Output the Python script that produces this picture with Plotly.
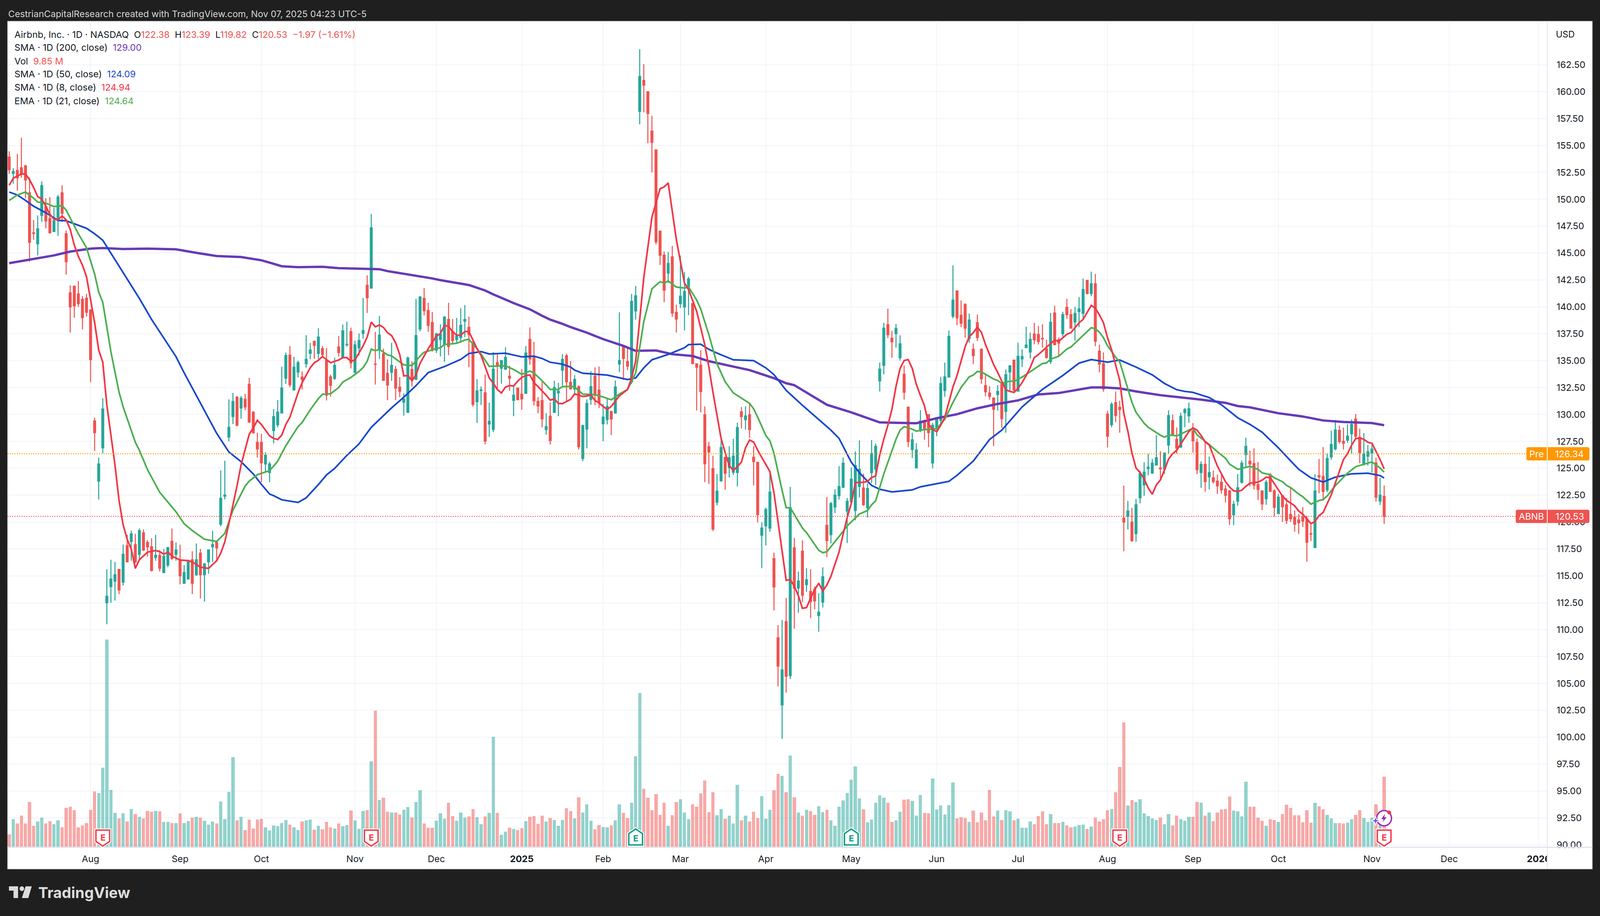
import plotly.graph_objects as go

# ABNB daily bars (prices in USD, volume in millions)
opens = [153.92,152.41,152.68,152.92,153.1,150.6,146.88,145.86,148.5,149.3,
148.2,147.0,148.1,150.6,146.8,141.3,141.9,141.2,140.7,140.8,
139.7,129.4,123.8,126.9,112.5,114.0,114.5,115.6,114.4,117.8,
118.2,117.9,117.0,119.0,118.1,117.7,116.7,116.9,115.3,116.0,
118.2,117.0,116.5,114.3,114.7,116.5,115.1,117.1,115.1,116.3,
117.7,118.1,119.8,122.4,127.9,129.8,131.6,130.6,131.4,132.8,
130.2,127.4,127.4,125.4,124.6,128.5,129.04,130.14,133.37,135.51,
132.28,133.94,133.47,134.72,135.68,136.8,135.66,136.11,135.0,133.5,
133.35,136.27,135.3,136.49,137.7,133.93,136.2,137.53,142.0,141.74,
134.68,136.0,135.64,133.82,133.93,134.18,132.54,131.13,130.19,134.18,
133.26,137.95,140.78,139.66,138.54,135.98,136.96,136.5,138.83,137.73,
136.96,137.15,138.67,138.09,136.69,131.18,132.23,132.01,129.11,128.6,
134.81,134.3,134.2,133.55,131.31,132.45,131.87,131.96,136.97,135.39,
131.2,131.29,128.59,129.83,130.19,132.0,134.12,135.46,132.99,132.37,
132.57,125.91,128.63,131.4,133.56,132.26,129.14,129.53,130.26,130.13,
134.7,136.33,134.91,133.03,139.62,158.17,161.04,160.0,156.33,154.58,
147.03,144.8,143.15,144.65,139.49,140.3,139.99,141.86,140.32,134.7,
134.58,129.97,127.0,124.96,121.84,123.84,125.99,125.07,124.63,124.61,
130.24,129.51,129.97,126.02,125.55,118.78,119.64,119.44,116.6,109.24,
103.0,110.74,105.72,117.6,113.86,117.29,114.19,113.55,113.75,111.31,
112.56,119.7,118.83,121.4,122.45,123.23,121.03,121.88,121.07,123.31,
123.16,121.33,124.59,124.93,133.12,134.56,138.34,137.08,137.5,135.27,
133.73,130.66,126.74,125.04,128.63,129.42,129.98,125.49,128.81,129.46,
132.22,133.47,139.13,141.48,139.21,140.22,137.06,136.06,138.52,136.06,
132.68,131.99,131.53,131.85,132.79,130.29,133.95,135.05,132.18,135.16,
136.21,135.8,137.47,137.43,137.06,136.1,134.92,139.43,136.93,137.5,
139.96,139.28,138.59,139.57,139.39,142.46,141.24,142.14,135.88,134.71,
130.03,129.05,131.09,130.66,120.36,120.55,119.99,118.92,122.25,123.45,
124.97,124.56,125.3,125.02,124.93,127.15,129.42,127.7,126.96,130.17,
129.87,128.45,127.4,124.6,125.36,124.2,124.12,123.8,123.69,123.07,
122.89,120.67,121.94,123.69,126.27,125.65,125.43,123.47,122.89,122.16,
124.4,122.89,120.78,122.45,121.6,120.71,120.45,120.2,120.45,120.27,
118.91,117.62,124.31,124.23,123.0,126.05,126.81,128.52,127.5,127.61,
128.2,129.58,127.87,125.43,126.12,126.41,125.5,121.94,122.38]

highs = [154.46,152.89,154.22,155.72,153.2,152.0,148.06,148.5,151.66,150.1,
150.2,149.2,150.4,151.3,147.1,142.0,142.0,142.4,141.0,141.2,
139.8,129.7,126.0,131.5,115.6,116.5,116.3,115.6,117.9,118.8,
119.2,118.9,119.4,119.3,118.3,118.5,118.8,117.4,117.5,117.7,
119.4,118.1,117.9,116.0,116.5,117.3,118.0,117.5,116.2,117.4,
119.2,118.3,124.8,125.7,131.4,132.0,131.7,131.7,131.9,133.4,
130.3,128.3,128.2,126.5,125.6,130.5,131.33,134.43,135.75,136.36,
135.35,135.0,134.0,137.37,136.65,136.87,138.0,136.36,136.18,133.7,
135.26,137.3,138.35,138.63,138.06,136.87,137.53,140.83,142.93,148.63,
137.68,139.16,136.11,135.12,136.65,134.52,133.46,131.96,135.39,134.94,
140.74,140.98,141.74,140.37,139.52,137.59,138.36,139.14,140.38,138.87,
138.98,139.88,140.17,139.09,136.92,133.28,132.59,133.71,131.09,135.8,
135.6,135.06,136.25,134.52,132.59,132.45,134.21,136.36,138.09,136.74,
131.6,133.04,130.12,131.11,133.13,132.95,135.6,135.64,134.95,133.66,
132.7,129.05,131.4,134.03,134.37,134.45,130.96,131.45,130.35,133.16,
139.49,136.37,136.2,141.2,141.95,163.95,162.56,160.0,157.75,154.58,
147.09,145.15,145.11,145.67,140.2,144.76,143.24,142.78,140.36,134.7,
135.95,130.74,127.45,126.17,124.46,127.88,126.08,127.05,127.73,129.23,
130.7,130.74,131.01,127.05,125.55,119.97,121.33,124.59,117.16,110.41,
110.89,112.94,123.27,118.52,115.4,118.3,115.71,115.62,114.0,113.38,
115.79,122.32,121.88,123.05,125.2,126.0,122.23,125.07,126.57,127.58,
124.5,123.6,127.62,127.3,134.82,138.52,139.83,137.76,138.41,137.36,
134.55,130.75,128.3,127.33,130.4,129.52,129.98,129.22,129.74,133.49,
134.82,137.8,143.85,141.5,140.59,140.33,139.39,136.6,139.28,136.14,
133.81,132.62,131.53,132.73,132.79,134.18,134.58,135.05,136.67,136.06,
138.15,137.61,138.52,138.23,138.37,136.95,139.43,140.11,137.15,139.54,
140.74,139.8,140.0,140.91,142.63,142.5,143.27,143.05,136.49,135.77,
130.33,131.12,132.14,131.27,123.38,121.97,121.31,122.16,124.75,125.56,
126.32,125.86,128.07,126.59,126.47,130.39,130.0,128.78,130.15,130.6,
131.1,129.2,127.76,125.65,127.51,126.09,124.78,124.41,124.51,123.43,
122.96,121.98,124.45,125.72,127.83,126.63,126.85,125.58,122.89,123.91,
124.55,123.06,122.6,122.45,122.23,123.14,121.07,120.74,121.4,120.56,
119.76,124.45,125.87,126.96,126.38,128.49,129.5,128.96,128.78,129.07,
129.54,130.05,128.67,128.27,127.14,127.32,125.98,124.09,123.39]

lows = [152.35,151.45,150.79,151.99,150.1,144.2,146.22,144.78,147.9,147.3,
146.8,147.0,146.6,147.9,143.0,137.6,139.0,140.0,137.9,139.1,
133.0,126.6,122.1,126.4,110.5,112.5,112.7,113.3,114.1,116.3,
116.4,116.2,116.5,117.3,116.8,115.4,116.4,115.4,115.3,115.8,
116.5,116.4,114.2,114.3,114.7,113.3,115.0,112.9,112.6,115.2,
116.3,116.3,119.6,122.1,127.5,129.1,128.9,129.6,130.4,129.2,
128.2,126.0,123.7,124.7,123.7,127.3,128.8,130.14,132.84,132.54,
132.28,133.44,132.32,134.34,135.12,135.17,135.17,135.39,131.3,131.67,
133.2,135.39,135.24,136.29,134.27,133.8,135.48,137.05,139.43,141.7,
132.77,135.15,133.13,131.33,133.13,131.33,131.6,129.88,130.19,132.59,
133.26,137.73,139.21,137.68,135.84,135.71,135.39,134.88,135.51,136.56,
136.61,136.65,137.19,134.39,130.73,129.2,130.88,127.23,127.92,128.35,
132.23,132.86,134.2,132.2,129.83,131.31,130.43,131.96,134.61,130.82,
130.12,128.8,128.12,127.2,130.19,129.83,132.68,131.27,132.3,131.84,
126.74,125.64,126.85,130.9,130.85,130.59,127.51,129.07,128.08,130.13,
133.93,133.2,134.12,132.83,138.82,156.96,158.08,155.21,152.5,145.8,
143.9,140.43,142.24,139.07,137.6,139.9,137.82,139.22,134.64,130.37,
130.19,123.71,123.53,119.16,121.55,123.75,123.0,124.15,124.37,123.31,
128.7,128.59,127.84,123.4,119.95,115.71,117.82,119.09,111.79,104.73,
99.85,104.14,105.4,110.08,111.57,112.56,113.5,111.07,111.9,109.8,
112.06,116.74,118.0,120.83,122.1,123.16,118.04,121.88,120.15,122.28,
121.51,120.41,123.64,123.45,132.14,133.73,137.1,135.27,136.21,135.01,
131.38,126.96,125.95,125.02,128.35,127.65,126.96,125.0,127.98,129.0,
131.64,133.47,138.93,138.3,138.11,137.13,136.67,134.68,136.82,132.86,
131.68,131.38,127.06,130.35,128.76,128.3,132.14,131.96,132.1,134.4,
136.21,135.19,136.52,136.49,136.21,135.19,134.68,136.45,135.47,137.23,
138.89,137.97,136.86,138.11,138.8,141.17,140.98,136.34,133.92,132.1,
126.93,128.81,129.28,128.3,117.29,119.31,118.18,118.18,121.73,122.43,
124.34,124.47,125.26,123.91,124.47,126.35,128.04,126.35,126.9,128.81,
129.23,126.45,124.45,123.18,122.81,123.03,123.58,122.6,122.63,121.83,
119.72,119.72,121.51,123.58,125.14,123.32,123.03,122.05,121.11,121.61,
122.81,120.5,120.78,120.0,119.83,120.0,119.11,118.89,119.54,116.31,
118.23,117.62,122.67,122.0,122.78,125.8,126.67,127.29,126.74,127.36,
126.38,127.75,125.47,125.25,125.25,124.6,121.91,121.58,119.82]

closes = [152.74,152.59,151.99,152.35,151.8,146.0,146.82,147.25,151.27,148.0,
146.9,148.0,150.2,148.7,144.2,140.0,140.1,140.3,139.0,139.5,
135.1,128.3,125.4,130.5,113.1,114.7,115.1,113.7,117.0,116.3,
118.9,116.3,119.2,117.4,117.7,115.5,116.9,115.7,116.8,117.6,
116.6,117.4,115.0,115.3,116.3,114.3,116.5,115.1,116.1,117.4,
117.9,117.6,122.2,122.5,128.8,131.2,129.0,131.5,130.7,129.3,
128.3,126.8,125.5,126.2,125.4,129.8,130.21,132.46,135.48,132.77,
134.39,134.81,133.26,135.12,135.98,136.42,137.19,135.57,131.8,132.7,
134.57,135.75,137.77,136.52,134.79,136.47,136.87,137.79,140.85,147.35,
134.65,137.37,133.17,132.73,134.56,132.45,132.16,131.42,135.24,133.22,
137.33,140.92,139.64,138.27,136.0,137.48,137.44,139.05,136.31,136.87,
137.28,138.29,138.83,137.43,130.93,132.19,132.27,127.52,129.36,134.21,
134.49,135.0,135.3,133.37,131.78,131.38,131.45,135.71,135.17,131.27,
130.79,129.58,128.86,127.58,132.5,132.16,135.12,133.04,132.39,133.25,
127.0,128.96,131.03,132.59,131.78,131.12,129.75,130.74,129.58,132.55,
135.0,135.22,134.49,140.51,141.03,161.41,160.6,157.98,155.29,146.05,
144.8,141.55,144.03,139.43,138.86,140.99,141.43,142.59,134.74,134.39,
132.13,125.42,126.5,119.36,122.87,126.92,124.54,125.99,126.13,128.79,
129.8,129.86,128.59,125.62,120.68,119.44,121.16,122.78,113.97,106.62,
106.25,105.68,121.33,113.86,114.52,113.2,114.63,112.6,112.67,111.62,
114.92,118.28,121.71,122.5,123.29,125.47,121.93,123.99,125.25,124.89,
121.62,123.11,126.37,127.04,134.21,138.02,137.41,136.75,137.98,136.56,
132.07,127.48,127.65,126.69,129.39,128.63,128.31,129.0,129.61,132.86,
133.49,137.25,140.63,138.98,138.48,138.02,138.78,135.47,137.15,133.31,
132.1,131.68,130.48,132.14,129.61,133.7,134.51,132.27,135.4,135.38,
136.45,136.97,136.93,136.78,137.02,135.29,138.56,136.49,136.63,139.28,
139.28,138.02,139.39,139.8,141.61,141.24,142.14,136.8,134.68,132.36,
127.98,130.94,129.9,130.46,119.99,121.01,118.26,121.6,124.52,124.63,
125.1,125.47,125.98,124.95,126.41,129.9,128.07,126.87,129.83,130.45,
130.52,127.54,124.86,125.36,123.76,124.6,123.76,123.36,123.0,122.49,
120.31,121.65,123.18,125.47,127.03,125.4,123.43,123.03,121.69,123.69,
122.85,121.36,122.31,121.43,120.16,120.31,119.8,119.94,120.09,118.12,
118.88,122.89,124.2,122.85,125.91,127.21,128.56,127.47,127.32,127.98,
129.07,127.98,126.45,126.34,126.52,126.78,122.31,122.49,120.53]

volumes = [1.75,3.89,3.28,4.38,3.28,6.3,2.96,3.56,4.11,3.28,
3.61,3.18,3.72,2.74,5.47,5.64,5.15,2.74,3.01,3.34,
5.2,7.77,7.55,11.11,29.06,7.99,4.76,4.0,4.71,3.56,
5.31,4.6,4.22,4.0,5.04,4.93,5.04,4.98,3.5,3.5,
3.34,3.34,4.71,3.34,3.61,4.11,4.22,4.11,3.67,3.12,
3.56,3.28,6.35,3.89,7.72,12.6,3.72,4.22,2.35,3.83,
2.57,3.83,3.94,2.74,2.3,3.01,2.9,3.34,3.78,3.12,
2.74,2.35,3.56,3.72,3.83,2.41,2.96,2.46,3.5,2.74,
2.57,3.28,2.9,3.07,5.09,3.72,2.52,5.04,5.15,11.99,
19.11,6.57,6.9,4.93,4.82,4.82,4.54,5.2,5.58,4.11,
6.3,7.94,3.28,2.68,2.68,3.67,4.71,3.94,6.19,4.32,
3.67,4.82,4.11,4.27,5.31,4.16,3.18,4.27,4.76,15.44,
4.76,1.7,2.14,2.68,2.52,2.35,2.63,3.61,4.22,4.32,
3.23,4.38,3.56,4.05,3.78,2.96,3.78,5.42,5.04,4.0,
6.95,4.82,5.97,3.67,2.46,3.07,2.79,2.74,3.01,3.72,
5.97,4.76,4.05,6.19,12.7,21.57,8.16,6.9,5.15,7.39,
4.49,6.19,2.96,4.43,6.3,6.68,4.82,3.89,5.97,5.64,
7.5,9.31,4.87,7.66,4.43,5.31,3.94,4.38,3.28,8.7,
3.72,4.38,3.56,4.93,4.05,7.12,3.94,5.2,7.94,10.24,
9.96,7.66,12.81,6.95,4.82,4.38,5.2,5.04,4.49,5.69,
4.87,5.2,3.72,2.96,5.64,6.51,7.55,9.42,11.28,6.79,
5.26,3.45,3.83,6.19,7.23,6.9,6.19,3.5,3.72,4.93,
6.62,6.68,6.46,4.38,7.28,4.76,4.71,9.58,5.26,5.8,
4.54,5.86,9.03,4.0,4.16,4.05,3.5,5.09,3.45,4.82,
3.72,7.99,4.27,5.09,3.78,5.15,4.98,3.72,3.94,2.68,
2.68,3.56,3.18,4.32,4.98,3.18,4.6,3.34,3.34,3.5,
3.01,2.74,2.85,3.07,3.12,2.52,2.85,4.11,3.56,3.89,
5.15,5.31,7.66,11.22,17.46,5.8,6.57,6.3,6.68,4.71,
4.32,4.0,3.78,4.11,3.18,4.6,3.01,4.38,3.89,3.67,
4.22,4.22,6.3,6.19,4.38,4.82,3.61,4.82,5.26,5.31,
7.06,5.09,4.98,4.27,9.14,5.64,5.64,4.11,3.67,2.96,
3.89,3.78,3.5,4.6,5.91,5.47,4.43,4.43,3.45,5.15,
3.39,6.19,5.69,5.26,4.49,4.0,3.34,3.34,3.28,3.39,
3.89,4.49,5.15,4.05,3.5,4.11,5.97,4.5,9.85]

sma200_idx = [0,5,11,15,20,23,28,34,41,46,51,57,62,65,67,71,77,81,88,91,93,97,101,104,106,110,113,117,119,124,128,131,133,136,138,142,146,151,154,159,163,168,172,178,182,188,191,193,197,201,207,212,214,223,228,233,238,243,248,253,258,266,269,273,277,283,287,289,293,299,302,305,312,318,323,328,335,338]
sma200_val = [144.06,144.39,144.78,145.14,145.41,145.47,145.38,145.41,145.35,145.02,144.72,144.63,144.33,144.0,143.77,143.69,143.72,143.6,143.56,143.5,143.32,143.09,142.84,142.64,142.48,142.2,142.03,141.52,141.16,140.35,139.77,139.17,138.81,138.42,138.12,137.6,137.0,136.37,135.91,135.95,135.6,135.43,134.95,134.45,134.12,133.37,132.9,132.72,131.84,130.9,130.19,129.53,129.26,129.18,129.65,130.02,130.57,130.98,131.31,131.86,131.99,132.51,132.51,132.42,132.14,131.79,131.63,131.5,131.38,131.08,130.78,130.66,130.11,129.81,129.44,129.3,129.2,129.0]

sma50_idx = [0,2,4,6,9,12,14,19,21,23,26,29,32,35,38,41,43,46,49,51,54,57,60,62,64,65,67,71,73,76,78,80,83,86,89,91,94,97,100,103,107,111,113,116,118,122,126,129,131,133,136,138,139,141,147,152,154,156,158,162,166,167,170,172,174,178,183,186,188,191,195,199,202,204,207,209,212,214,217,222,224,231,233,237,241,244,249,254,259,263,266,270,273,277,281,284,287,289,291,295,298,302,305,308,312,315,317,320,323,326,330,334,337,338]
sma50_val = [150.67,150.4,149.89,149.35,148.75,148.03,148.0,147.3,146.79,146.19,144.39,142.59,140.78,138.83,137.09,135.37,133.87,131.77,129.67,128.25,126.51,125.61,124.47,123.5,122.6,122.45,122.07,121.82,122.25,123.48,124.38,124.98,126.19,127.27,128.8,129.52,130.61,131.6,132.68,133.89,134.45,135.12,135.66,135.84,135.62,135.69,135.35,135.42,135.2,134.85,134.67,134.4,134.12,133.83,133.66,133.24,133.39,134.33,135.08,135.58,136.2,136.49,136.53,136.05,135.7,135.08,135.0,134.33,133.7,132.24,130.85,129.53,128.54,127.77,125.57,124.58,123.4,123.05,122.8,122.99,123.27,123.78,124.34,125.67,127.67,128.54,130.7,132.33,133.62,134.77,135.1,134.86,135.06,134.4,133.68,132.88,132.3,132.14,132.05,131.57,130.9,129.69,129.08,128.35,126.9,125.69,124.9,124.11,123.72,124.17,124.48,124.54,124.32,124.09]

ema21_idx = [0,2,4,6,7,9,11,13,14,17,19,21,22,23,25,27,28,31,32,34,37,41,43,45,48,51,53,55,58,59,61,64,65,66,68,69,71,72,74,76,77,79,81,82,84,86,87,88,89,90,91,93,94,97,99,101,102,105,106,107,110,112,113,115,116,118,122,124,126,128,129,131,133,135,136,138,139,141,144,146,148,150,152,153,154,156,158,160,161,162,164,166,167,169,170,172,174,176,178,182,183,184,186,187,188,190,191,192,195,196,198,199,200,201,204,206,209,211,212,213,215,218,219,220,222,223,225,228,230,232,234,236,237,238,239,242,243,244,246,247,249,251,254,255,256,258,260,261,264,266,267,268,269,270,272,273,276,277,279,280,283,284,285,286,287,289,291,292,294,295,297,299,300,302,303,305,307,308,310,311,313,314,315,317,318,320,322,323,324,326,329,331,335,337,338]
ema21_val = [149.89,150.4,150.67,150.1,149.74,149.65,149.32,149.41,148.99,146.79,145.5,143.04,141.38,140.42,135.83,132.07,130.72,127.41,126.66,124.86,122.76,120.95,119.84,119.21,118.4,118.19,118.94,121.1,123.35,123.8,124.4,124.77,125.2,125.65,127.09,127.67,128.86,129.25,130.43,131.47,131.87,131.92,132.5,133.01,133.44,134.0,134.36,134.94,136.07,135.93,136.05,135.53,135.44,134.61,134.54,135.42,135.78,136.11,136.2,136.5,136.61,136.92,136.98,136.11,135.6,134.47,134.52,134.18,133.73,134.03,133.85,133.13,132.32,132.32,132.59,132.61,132.55,131.89,131.84,131.62,131.36,131.89,132.32,133.05,133.85,138.62,141.68,142.34,142.2,142.41,141.84,141.74,141.84,140.63,139.8,137.41,134.7,133.04,132.0,131.03,130.52,129.75,128.04,127.55,126.39,122.94,121.33,121.33,119.44,119.02,117.88,117.37,117.15,117.24,118.65,119.64,120.74,121.07,121.6,121.97,124.47,127.7,128.54,128.87,128.63,128.44,128.59,128.68,129.55,131.12,132.51,133.49,133.66,133.99,133.95,133.29,133.16,132.88,133.1,133.07,133.47,133.99,134.73,134.79,135.14,135.41,136.08,136.27,137.32,138.06,137.97,137.65,137.13,136.39,135.32,134.88,131.12,130.2,129.18,128.81,128.07,127.89,128.07,128.07,128.0,128.35,128.72,128.11,127.51,127.2,126.54,125.93,125.38,124.9,124.98,125.18,124.9,124.57,124.39,124.11,123.75,123.41,123.2,122.6,122.35,121.66,122.0,122.09,122.42,123.38,124.54,125.14,125.59,125.02,124.64]

sma8_idx = [0,1,3,4,5,6,7,8,9,10,11,12,13,14,15,16,17,18,19,20,21,22,23,24,25,26,27,28,29,30,31,32,34,36,37,38,39,40,42,44,45,47,49,51,52,53,54,56,57,59,60,61,62,64,65,66,67,68,69,71,72,74,75,76,77,79,81,82,83,84,85,87,88,89,90,91,92,93,94,95,96,97,98,99,100,101,103,105,106,107,108,109,110,111,112,113,114,115,116,117,118,119,120,121,122,123,124,125,126,127,128,129,130,132,133,134,135,136,138,139,141,142,143,144,145,146,147,148,150,152,153,154,156,158,160,161,162,164,165,166,167,169,171,172,173,175,176,177,178,179,180,181,182,183,184,186,187,188,189,190,191,192,193,194,195,196,197,198,199,200,201,202,203,204,205,206,207,208,210,211,212,213,214,215,216,217,218,219,220,221,222,223,224,225,226,227,228,229,230,231,232,233,234,235,236,237,238,239,240,241,242,243,244,245,246,247,248,249,250,251,252,253,255,257,258,260,261,262,263,264,265,266,267,268,269,270,271,272,273,274,275,276,277,278,279,280,281,282,283,284,285,286,287,288,289,290,291,292,293,294,295,296,297,298,299,300,301,302,303,304,305,306,307,308,309,310,311,312,313,314,315,316,317,318,319,320,321,322,323,324,325,326,327,328,329,330,331,332,333,334,335,336,337,338]
sma8_val = [151.3,151.96,152.35,152.35,151.81,151.09,150.25,150.01,149.35,148.6,148.15,148.09,148.45,148.09,147.2,145.74,144.69,143.88,142.8,140.63,138.53,135.98,134.86,130.87,128.01,125.31,122.0,119.75,118.4,117.49,115.69,116.5,117.2,117.35,117.25,117.01,117.2,116.83,116.47,116.41,116.29,115.81,115.69,116.41,117.1,118.16,119.84,123.35,125.31,128.16,128.76,129.45,129.06,128.01,127.77,127.67,128.08,129.07,129.74,132.0,132.95,134.34,134.81,135.03,135.39,134.81,135.06,135.28,135.28,134.94,135.06,136.38,137.19,138.58,138.15,138.31,138.09,137.6,137.33,136.65,135.57,133.58,133.62,133.13,133.67,134.76,136.11,137.28,137.52,138.27,138.18,137.7,137.37,137.37,137.7,137.7,136.92,136.11,135.48,134.39,133.4,132.9,132.32,132.0,132.55,132.68,132.64,133.1,133.44,133.62,133.67,132.95,132.59,131.78,131.33,131.45,131.02,131.0,131.4,131.91,131.67,131.71,131.84,131.29,131.07,130.74,130.46,130.74,131.73,132.32,133.38,134.95,142.72,148.34,150.98,151.15,151.52,146.26,144.28,142.2,141.61,139.59,136.47,134.4,132.06,127.77,126.45,125.24,124.8,125.14,125.58,126.89,127.62,127.44,126.67,125.35,124.69,122.72,119.97,117.11,114.58,114.65,114.03,113.15,111.98,112.05,112.93,113.7,114.32,113.59,114.14,114.95,116.12,117.22,118.87,120.41,121.73,123.66,123.7,123.77,124.14,124.28,126.23,127.7,129.0,130.48,132.6,134.27,135.01,135.1,134.27,132.79,131.77,130.81,129.09,128.63,128.39,129.0,129.74,131.12,132.55,133.62,134.92,136.3,137.23,137.6,138.11,137.63,136.49,135.56,134.64,133.9,133.07,132.29,132.14,132.05,132.42,132.97,133.62,134.36,135.29,135.56,136.25,136.91,136.8,137.45,137.6,138.06,138.52,138.84,139.45,140.13,139.87,139.26,138.52,137.13,136.02,134.55,133.16,130.11,128.44,126.41,125.02,124.6,124.01,123.17,122.58,123.45,123.91,124.84,125.85,126.35,126.66,127.26,127.87,128.41,128.75,128.54,128.05,127.44,127.17,126.17,125.2,124.48,123.75,123.26,122.9,122.84,122.96,123.32,123.6,123.65,123.71,123.89,124.17,124.14,123.57,122.96,122.42,122.02,121.75,121.51,121.02,120.72,120.29,119.85,120.05,120.6,120.88,121.69,122.54,123.63,124.72,125.81,126.35,127.14,127.75,127.81,127.69,127.41,127.32,126.54,125.81,124.94]

last_price = 120.53
pre_price = 126.34
earnings_down = [23, 89, 273, 338]
earnings_up = [154, 207]

tick_idx = [20, 42, 62, 85, 105, 126, 146, 165, 186, 207, 228, 248, 270, 291, 312, 335, 354, 376]
tick_text = ["Aug", "Sep", "Oct", "Nov", "Dec", "<b>2025</b>", "Feb", "Mar", "Apr", "May",
             "Jun", "Jul", "Aug", "Sep", "Oct", "Nov", "Dec", "<b>2026</b>"]
price_ticks = [90 + 2.5 * i for i in range(30)]

UP = "#26a69a"
DOWN = "#ef5350"
INK = "#131722"
FONT = "Inter"
# the browser window comes out 4096 wide, not 4212, so the layout is squeezed to fill it
W, H = 4096, 2346
SX = W / 4212
L, R, T, B = 20, 4073, 54, 2170   # plot edges, in reference pixels


def fx(px):
    return (px - L) / (R - L)


def fy(py):
    return (B - py) / (B - T)


def abs_path(points, close=True):
    s = "M " + " L ".join(f"{fx(x):.5f},{fy(y):.5f}" for x, y in points)
    return s + (" Z" if close else "")


bars = list(range(len(closes)))
vol_colors = ["rgba(38,166,154,0.5)" if c >= o else "rgba(239,83,80,0.5)" for o, c in zip(opens, closes)]

fig = go.Figure()
fig.add_trace(go.Bar(x=bars, y=volumes, marker=dict(color=vol_colors, line=dict(width=0)), width=0.8, yaxis="y"))
fig.add_trace(go.Candlestick(
    x=bars, open=opens, high=highs, low=lows, close=closes, yaxis="y2",
    increasing=dict(line=dict(color=UP, width=2.6), fillcolor=UP),
    decreasing=dict(line=dict(color=DOWN, width=2.6), fillcolor=DOWN),
    whiskerwidth=0,
))
for xs, ys, col, lw in [
    (sma200_idx, sma200_val, "#673ab7", 6),
    (sma50_idx, sma50_val, "#1848cc", 4.2),
    (ema21_idx, ema21_val, "#4caf50", 4.2),
    (sma8_idx, sma8_val, "#f23645", 4.2),
]:
    fig.add_trace(go.Scatter(x=xs, y=ys, mode="lines", line=dict(color=col, width=lw), yaxis="y2"))

shapes = []
# white chart panel with the axis strips
shapes.append(dict(type="rect", xref="paper", yref="paper", x0=fx(20), x1=fx(4192), y0=fy(54), y1=fy(2226),
                   fillcolor="#ffffff", line=dict(color="#8f8f8f", width=1), layer="below"))

# dotted price lines
for val, col in [(pre_price, "#ff9800"), (last_price, DOWN)]:
    shapes.append(dict(type="line", xref="paper", yref="y2", x0=0, x1=1, y0=val, y1=val,
                       line=dict(color=col, width=2, dash="dot"), layer="above"))

# covers tick labels that run past the axis, as in the original
shapes.append(dict(type="rect", xref="paper", yref="paper", x0=fx(4074), x1=fx(4191), y0=fy(2172), y1=fy(2225),
                   fillcolor="#ffffff", line=dict(width=0), layer="above"))
shapes.append(dict(type="line", xref="paper", yref="paper", x0=1, x1=1, y0=fy(54), y1=fy(2226),
                   line=dict(color="#e0e3eb", width=2), layer="above"))
shapes.append(dict(type="line", xref="paper", yref="paper", x0=0, x1=fx(4192), y0=0, y1=0,
                   line=dict(color="#e0e3eb", width=3), layer="above"))


# price labels: rounded tags on the right
def tag_path(left):
    r = 5
    h = 17
    left = left * SX
    right = 111 * SX
    return (f"M {left + r},{h} L {right - r},{h} Q {right},{h} {right},{h - r} L {right},{r - h} "
            f"Q {right},{-h} {right - r},{-h} L {left + r},{-h} Q {left},{-h} {left},{r - h} "
            f"L {left},{h - r} Q {left},{h} {left + r},{h} Z")


annotations = []
for val, col, left, name, name_x in [(pre_price, "#ff9800", -55, "Pre", 4045), (last_price, DOWN, -83, "ABNB", 4031)]:
    shapes.append(dict(type="path", xref="paper", yref="y2", xsizemode="pixel", ysizemode="pixel",
                       xanchor=1, yanchor=val, path=tag_path(left), fillcolor=col, line=dict(width=0), layer="above"))
    shapes.append(dict(type="line", xref="paper", yref="y2", xsizemode="pixel", ysizemode="pixel",
                       xanchor=1, yanchor=val, x0=0, x1=0, y0=-17, y1=17, line=dict(color="#ffffff", width=2), layer="above"))
    annotations.append(dict(xref="paper", yref="y2", x=fx(name_x), y=val, text=name, showarrow=False,
                            font=dict(family=FONT, size=23.5, color="#ffffff"), xanchor="center", yanchor="middle"))
    annotations.append(dict(xref="paper", yref="y2", x=fx(4172), y=val, text=f"{val:.2f}", showarrow=False,
                            font=dict(family=FONT, size=23.5, color="#ffffff"), xanchor="right", yanchor="middle"))

# earnings badges
for idx in earnings_down:
    pts = "M -17.5,44 L 17.5,44 L 17.5,15 L 0,3 L -17.5,15 Z"
    shapes.append(dict(type="path", xref="x", yref="paper", xsizemode="pixel", ysizemode="pixel", xanchor=idx, yanchor=0,
                       path=pts, fillcolor="#ffffff", line=dict(color="#ffffff", width=8), layer="above"))
    shapes.append(dict(type="path", xref="x", yref="paper", xsizemode="pixel", ysizemode="pixel", xanchor=idx, yanchor=0,
                       path=pts, fillcolor="#ffffff", line=dict(color="#f23645", width=3.5), layer="above"))
    annotations.append(dict(xref="x", yref="paper", x=idx, y=fy(2145), text="<b>E</b>", showarrow=False,
                            font=dict(family=FONT, size=22, color="#f23645"), yanchor="middle"))
for idx in earnings_up:
    pts = "M -17.5,6 L 17.5,6 L 17.5,35 L 0,47 L -17.5,35 Z"
    shapes.append(dict(type="path", xref="x", yref="paper", xsizemode="pixel", ysizemode="pixel", xanchor=idx, yanchor=0,
                       path=pts, fillcolor="#ffffff", line=dict(color="#ffffff", width=8), layer="above"))
    shapes.append(dict(type="path", xref="x", yref="paper", xsizemode="pixel", ysizemode="pixel", xanchor=idx, yanchor=0,
                       path=pts, fillcolor="#ffffff", line=dict(color="#089981", width=3.5), layer="above"))
    annotations.append(dict(xref="x", yref="paper", x=idx, y=fy(2147), text="<b>E</b>", showarrow=False,
                            font=dict(family=FONT, size=22, color="#089981"), yanchor="middle"))

# news flash and sparkle icons next to the last bar
shapes.append(dict(type="circle", xref="paper", yref="paper", x0=fx(3624), x1=fx(3663), y0=fy(2076), y1=fy(2115),
                   fillcolor="#ffffff", line=dict(color="#9c27b0", width=3.5), layer="above"))
shapes.append(dict(type="path", xref="paper", yref="paper", layer="above", fillcolor="#9c27b0", line=dict(width=0),
                   path=abs_path([(3646, 2084), (3636, 2098), (3642, 2098), (3640, 2106), (3650, 2093), (3644, 2093)])))
shapes.append(dict(type="circle", xref="paper", yref="paper", x0=fx(3652), x1=fx(3662), y0=fy(2076), y1=fy(2086),
                   fillcolor="#f23645", line=dict(width=0), layer="above"))
shapes.append(dict(type="path", xref="paper", yref="paper", layer="above", fillcolor="#7c4dff",
                   line=dict(color="#ffffff", width=2),
                   path=abs_path([(3621, 2091), (3624, 2099), (3632, 2102), (3624, 2105), (3621, 2113),
                                  (3618, 2105), (3610, 2102), (3618, 2099)])))

# TradingView logo
LOGO = "#dcdcdc"
shapes.append(dict(type="path", xref="paper", yref="paper", fillcolor=LOGO, line=dict(width=0),
                   path=abs_path([(24, 2270), (48, 2270), (48, 2300), (36, 2300), (36, 2281), (24, 2281)])))
shapes.append(dict(type="path", xref="paper", yref="paper", fillcolor=LOGO, line=dict(width=0),
                   path=abs_path([(68, 2270), (84, 2270), (75, 2300), (58, 2300)])))
shapes.append(dict(type="circle", xref="paper", yref="paper", x0=fx(52), x1=fx(64), y0=fy(2270), y1=fy(2282),
                   fillcolor=LOGO, line=dict(width=0)))

annotations.append(dict(xref="paper", yref="paper", x=fx(99), y=fy(2286), text="<b>TradingView</b>", showarrow=False,
                        font=dict(family=FONT, size=38, color=LOGO), xanchor="left", yanchor="middle"))
annotations.append(dict(xref="paper", yref="paper", x=fx(20), y=fy(36),
                        text="CestrianCapitalResearch created with TradingView.com, Nov 07, 2025 04:23 UTC-5",
                        showarrow=False, font=dict(family=FONT, size=23.2, color="#d6d6d6"), xanchor="left", yanchor="middle"))
annotations.append(dict(xref="paper", yref="paper", x=fx(4120), y=fy(88), text="USD", showarrow=False,
                        font=dict(family=FONT, size=23, color=INK), xanchor="center", yanchor="middle"))


def c(text, col):
    return f'<span style="color:{col}">{text}</span>'


legend_rows = [
    "Airbnb, Inc. · 1D · NASDAQ  O" + c("122.38", DOWN) + "  H" + c("123.39", DOWN) + "  L" + c("119.82", DOWN)
    + "  C" + c("120.53", DOWN) + "  " + c("−1.97 (−1.61%)", DOWN),
    "SMA · 1D (200, close)  " + c("129.00", "#673ab7"),
    "Vol  " + c("9.85 M", DOWN),
    "SMA · 1D (50, close)  " + c("124.09", "#1848cc"),
    "SMA · 1D (8, close)  " + c("124.94", "#f23645"),
    "EMA · 1D (21, close)  " + c("124.64", "#4caf50"),
]
for i, row in enumerate(legend_rows):
    annotations.append(dict(xref="paper", yref="paper", x=fx(36), y=fy(88 + 34 * i), text=row, showarrow=False,
                            font=dict(family=FONT, size=23.5, color=INK), xanchor="left", yanchor="middle"))

fig.update_layout(
    width=W, height=H,
    margin=dict(l=L * SX, r=(4212 - R) * SX, t=T, b=H - B, pad=0),
    paper_bgcolor="#1f1f1f",
    plot_bgcolor="#ffffff",
    showlegend=False,
    boxgap=0.53, boxgroupgap=0,
    bargap=0,
    xaxis=dict(range=[-0.44, 378.1], tickmode="array", tickvals=tick_idx, ticktext=tick_text, showgrid=True,
               gridcolor="#f0f3fa", gridwidth=2, zeroline=False, ticks="outside", ticklen=9,
               tickcolor="rgba(0,0,0,0)", tickfont=dict(family=FONT, size=23.5, color=INK), rangeslider=dict(visible=False)),
    yaxis=dict(range=[-0.05, 115.76], visible=False, fixedrange=True),
    yaxis2=dict(range=[89.77, 166.56], overlaying="y", side="right", tickmode="array", tickvals=price_ticks,
                ticktext=[f"{p:.2f}" for p in price_ticks], showgrid=True, gridcolor="#f0f3fa", gridwidth=2, zeroline=False,
                ticks="outside", ticklen=18, tickcolor="rgba(0,0,0,0)", tickfont=dict(family=FONT, size=23.5, color=INK)),
    shapes=shapes,
    annotations=annotations,
)

# drop the page's default margin so the figure sits flush in the window
page_fix = "document.body.style.margin='0';document.documentElement.style.overflow='hidden';"
fig.write_html("out.html", config={"displayModeBar": False}, post_script=page_fix)
